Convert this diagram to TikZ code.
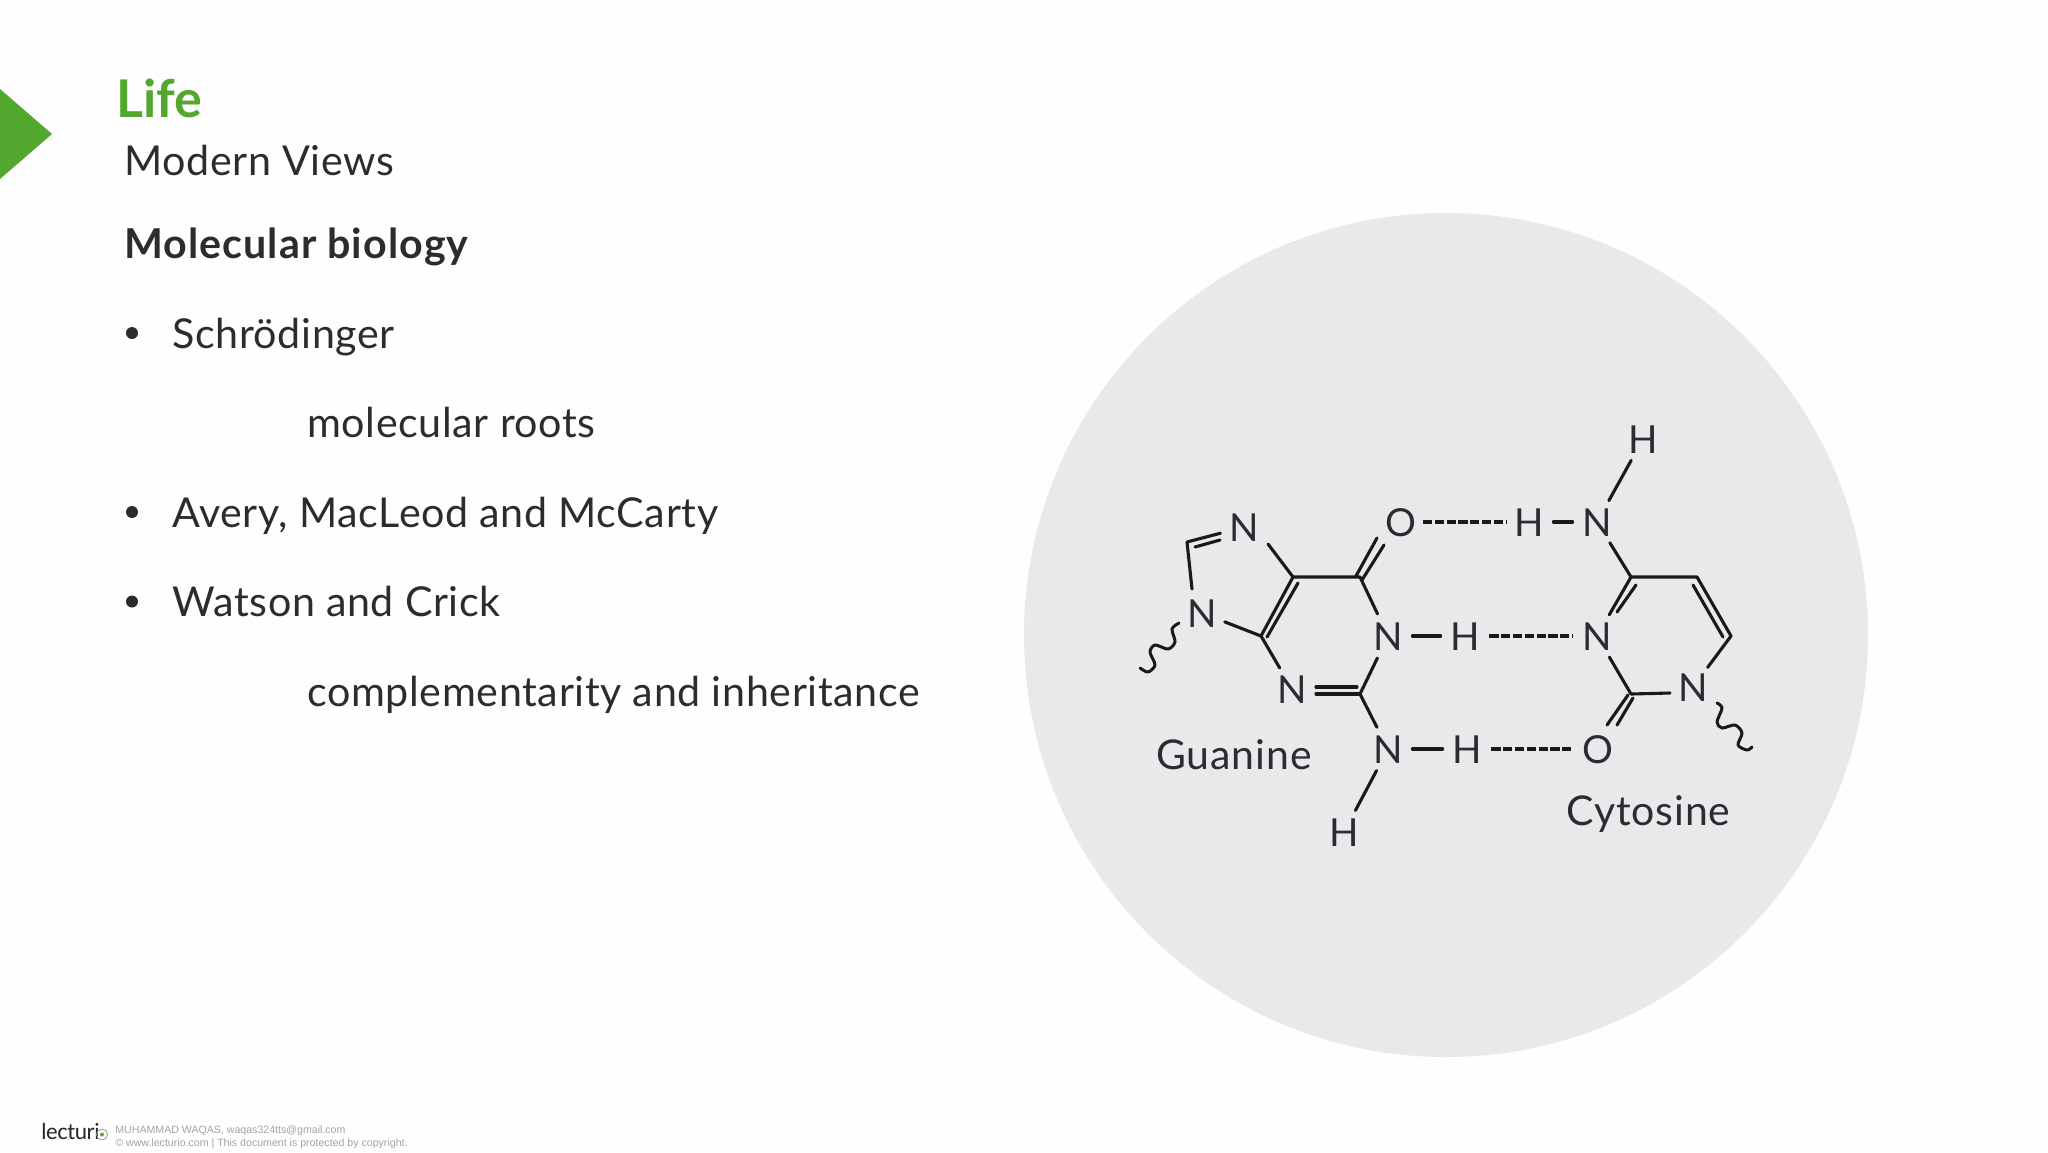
\documentclass[tikz,border=0pt]{standalone}
\usepackage{fontspec}
\setmainfont{Lato}
\newfontfamily\footfont{Liberation Sans}
\newfontfamily\slidefont[LetterSpace=1.5]{Lato}
\newfontfamily\labelfont[LetterSpace=2.2]{Lato}
\definecolor{lifegreen}{HTML}{52A72F}
\definecolor{textgray}{HTML}{2C2B30}
\definecolor{discgray}{HTML}{E9E8EB}
\definecolor{footgray}{HTML}{A3A3A3}
\tikzstyle{atom}=[
    circle,
    inner sep = 0pt,
    minimum size = 24pt,
    text = textgray,
    text height = 14.6pt,
    text depth = 0pt,
    font = \fontsize{19.3}{20}\selectfont
]
\tikzstyle{line text}=[
    anchor = base west,
    inner sep = 0pt,
    text = textgray,
    font = \slidefont\fontsize{20.6}{22}\selectfont
]

\begin{document}
\begin{tikzpicture}[x=0.5pt, y=-0.5pt, node distance={38.5pt}, bond/.style = {draw=black!90, line width=1.55pt, line cap=round, line join=round}, hbond/.style = {draw=black!90, line width=1.55pt, dash pattern=on 4.6pt off 1.3pt}]
        \useasboundingbox (0,0) rectangle (2048,1152);
        \fill[white!99.5!black] (0,0) rectangle (2048,1152);

        \fill[lifegreen] (0,89) -- (52,134) -- (0,179) -- cycle;
        \fill[discgray] (1446,635) circle (422);

        \node[line text, text=lifegreen, font=\fontsize{26}{28}\selectfont\bfseries] (title) at (116,117.5) {Life};
        \node[line text] (sub) at (124,175) {Modern Views};
        \node[line text, font=\fontsize{20.6}{22}\selectfont\bfseries\addfontfeature{LetterSpace=2.5}] (head) at (124,258.5) {Molecular biology};
        \node[line text] (schr) at (172,348) {Schrödinger};
        \node[line text] (roots) at (307,437.5) {molecular roots};
        \node[line text] (avery) at (172,527) {Avery, MacLeod and McCarty};
        \node[line text] (watson) at (172,616.5) {Watson and Crick};
        \node[line text] (compl) at (307,706.5) {complementarity and inheritance};
        \fill[textgray] (132,333) circle (6);
        \fill[textgray] (132,512) circle (6);
        \fill[textgray] (132,601.5) circle (6);

        \node[atom] (n7) at (1244,527) {N};
        \node[atom] (n9) at (1202,613) {N};
        \node[atom] (n3) at (1292,689) {N};
        \node[atom] (n1) at (1388,636) {N};
        \node[atom] (n2) at (1388,749) {N};
        \node[atom] (o6) at (1401,522) {O};
        \node[atom] (h1) [right of = n1] {H};
        \node[atom] (h2) at (1467,749) {H};
        \node[atom] (h3) at (1344,832) {H};
        \coordinate (c8) at (1187,542);
        \coordinate (c4) at (1261,636);
        \coordinate (c5) at (1293,577);
        \coordinate (c6) at (1360,577);
        \coordinate (c2) at (1360,694);

        \node[atom] (na) at (1597,522) {N};
        \node[atom] (nb) at (1597,636) {N};
        \node[atom] (nc) at (1693,687) {N};
        \node[atom] (oa) at (1598,749) {O};
        \node[atom] (ha) [left of = na, node distance=34pt] {H};
        \node[atom] (hb) at (1643,439) {H};
        \coordinate (ca) at (1631,577);
        \coordinate (cb) at (1697,577);
        \coordinate (cd) at (1731,636);
        \coordinate (ce) at (1631,694);

        \draw[bond] (n7) -- (c8) -- ([shift={(-10,-24)}]n9.center);
        \draw[bond] ([shift={(8,5)}]c8) -- ([shift={(-24,13)}]n7.center);
        \draw[bond] ([shift={(24,17)}]n7.center) -- (c5) -- (c4) -- (n9);
        \draw[bond] ([shift={(6,1)}]c4) -- ([shift={(5,6)}]c5);
        \draw[bond] (c4) -- (n3);
        \draw[bond] (c5) -- (c6) -- (n1) -- (c2) -- (n2) -- (h3);
        \draw[bond] ([shift={(-4,-1)}]c6) -- ([shift={(-24,16)}]o6.center);
        \draw[bond] ([shift={(2,3)}]c6) -- ([shift={(-17,23)}]o6.center);
        \draw[bond] ([shift={(24,5)}]n3.center) -- (c2);
        \draw[bond] ([shift={(24,-2)}]n3.center) -- ([shift={(-3,-7)}]c2);
        \draw[bond] (n1) -- (h1);
        \draw[bond] (n2) -- (h2);

        \draw[bond] (hb) -- (na) -- (ca) -- (cb) -- (cd) -- (nc);
        \draw[bond] (ha) -- (na);
        \draw[bond] (ca) -- (nb) -- (ce) -- ([shift={(-23,6)}]nc.center);
        \draw[bond] ([shift={(5,8)}]ca) -- ([shift={(20,-24)}]nb.center);
        \draw[bond] ([shift={(-4,8)}]cb) -- ([shift={(-8,1)}]cd);
        \draw[bond] ([shift={(-3,1)}]ce) -- ([shift={(9,-24)}]oa.center);
        \draw[bond] ([shift={(2,4)}]ce) -- ([shift={(19,-24)}]oa.center);

        \draw[hbond] ([xshift=11pt]o6.center) -- ([xshift=-11pt]ha.center);
        \draw[hbond] (h1) -- (nb);
        \draw[hbond] (h2) -- (oa);

        \draw[bond, line width=1.5pt] plot [smooth] coordinates {(1179,623) (1172,629) (1175,642) (1168,649) (1155,645) (1150,652) (1155,665) (1148,672) (1140,668)};
        \draw[bond, line width=1.5pt] plot [smooth] coordinates {(1717,703) (1722,708) (1717,722) (1722,728) (1735,725) (1742,733) (1738,745) (1747,750) (1752,747)};

        \node[line text, font=\labelfont\fontsize{20.5}{22}\selectfont] (guanine) at (1156,769) {Guanine};
        \node[line text, font=\labelfont\fontsize{20.5}{22}\selectfont] (cytosine) at (1566,825) {Cytosine};

        \node[line text, text=black!85, font=\fontsize{11}{12}\selectfont\addfontfeature{LetterSpace=-2}] (logo) at (41,1139) {lecturi};
        \draw[black!40, line width=0.4pt] (102,1134.5) circle (5.5);
        \fill[lifegreen] (102,1134.5) circle (2);

        \node[line text, text=footgray, font=\footfont\fontsize{5.3}{6}\selectfont] (owner) at (115,1133) {MUHAMMAD WAQAS, waqas324tts@gmail.com};
        \node[line text, text=footgray, font=\footfont\fontsize{5.3}{6}\selectfont] (copy) at (115,1146) {© www.lecturio.com | This document is protected by copyright.};

    \end{tikzpicture}
\end{document}
